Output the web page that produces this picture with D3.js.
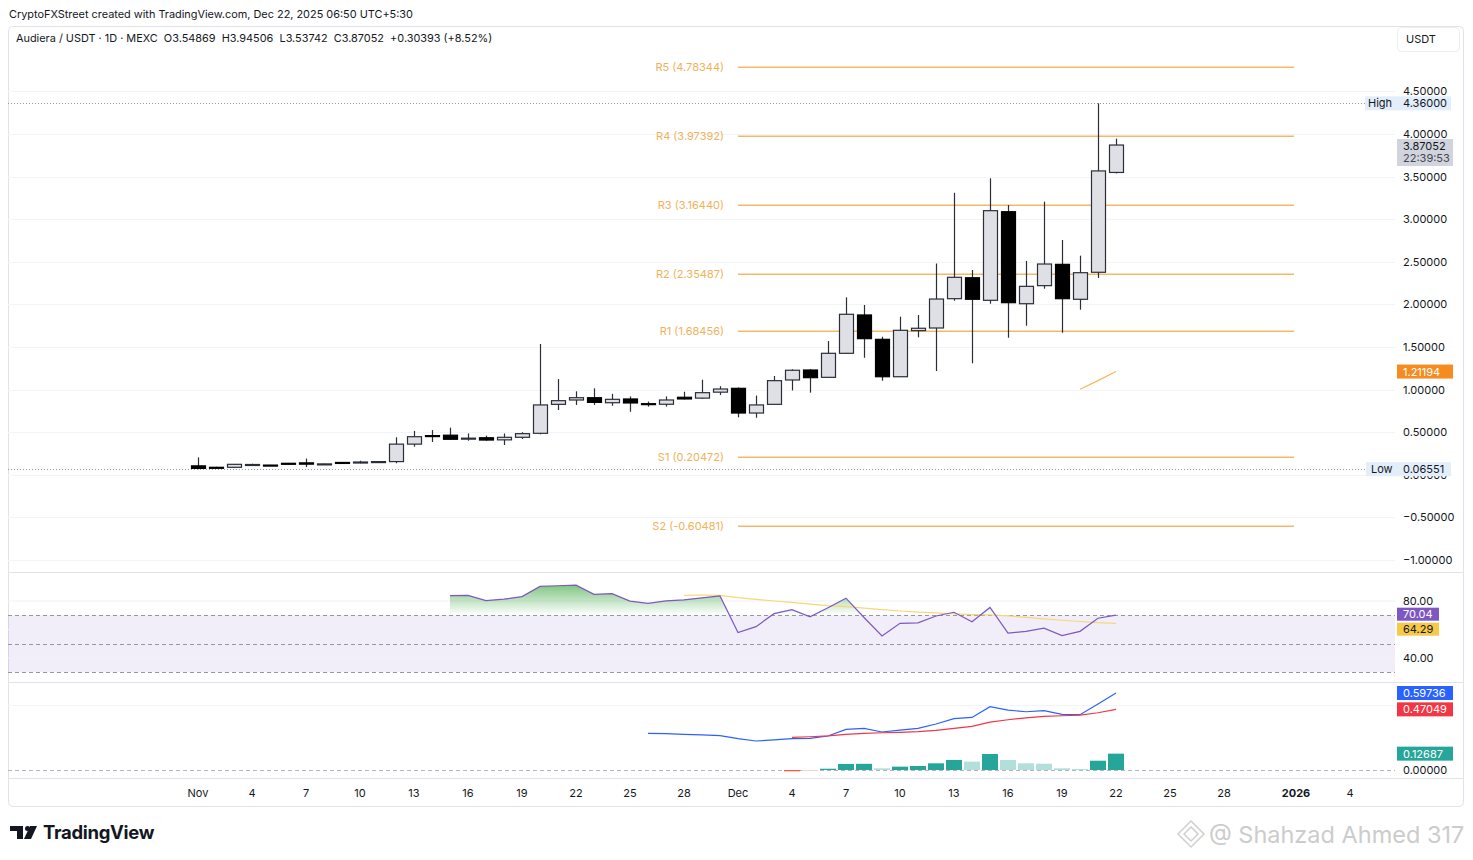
<!DOCTYPE html>
<html lang="en">
<head>
<meta charset="UTF-8">
<title>Audiera / USDT</title>
<script src="https://cdn.jsdelivr.net/npm/d3@7"></script>
<style>
  body { margin: 0; background: #fff; }
  svg { font-family: Inter, "Noto Sans", sans-serif; }
</style>
</head>
<body>
<svg id="chart" width="1473" height="860"></svg>
<script>
// ---- data ----
var dates = ["2025-11-01","2025-11-02","2025-11-03","2025-11-04","2025-11-05","2025-11-06","2025-11-07","2025-11-08",
  "2025-11-09","2025-11-10","2025-11-11","2025-11-12","2025-11-13","2025-11-14","2025-11-15","2025-11-16","2025-11-17",
  "2025-11-18","2025-11-19","2025-11-20","2025-11-21","2025-11-22","2025-11-23","2025-11-24","2025-11-25","2025-11-26",
  "2025-11-27","2025-11-28","2025-11-29","2025-11-30","2025-12-01","2025-12-02","2025-12-03","2025-12-04","2025-12-05",
  "2025-12-06","2025-12-07","2025-12-08","2025-12-09","2025-12-10","2025-12-11","2025-12-12","2025-12-13","2025-12-14",
  "2025-12-15","2025-12-16","2025-12-17","2025-12-18","2025-12-19","2025-12-20","2025-12-21","2025-12-22"];

var open  = [0.105,0.088,0.088,0.118,0.114,0.135,0.140,0.125,0.145,0.148,0.152,0.155,0.360,0.460,0.465,0.425,0.435,
  0.410,0.440,0.487,0.827,0.878,0.905,0.846,0.890,0.835,0.828,0.910,0.900,0.970,1.015,0.725,0.827,1.113,1.230,
  1.144,1.426,1.876,1.590,1.151,1.692,1.723,2.067,2.313,2.048,3.088,2.008,2.220,2.470,2.060,2.377,3.54869];
var high  = [0.205,0.095,0.125,0.130,0.118,0.140,0.190,0.130,0.150,0.165,0.160,0.440,0.515,0.525,0.553,0.485,0.460,
  0.485,0.500,1.535,1.124,0.980,1.015,0.950,0.920,0.860,0.920,0.975,1.116,1.040,1.025,0.930,1.160,1.238,1.240,
  1.570,2.083,1.993,1.620,1.856,1.876,2.480,3.310,2.404,3.480,3.167,2.510,3.206,2.756,2.572,4.360,3.94506];
var low   = [0.0655,0.075,0.085,0.105,0.108,0.120,0.090,0.120,0.130,0.135,0.140,0.135,0.330,0.385,0.410,0.400,0.400,
  0.350,0.420,0.475,0.760,0.820,0.820,0.810,0.740,0.800,0.800,0.885,0.890,0.937,0.675,0.670,0.827,0.990,0.964,
  1.140,1.420,1.374,1.104,1.150,1.614,1.218,2.043,1.309,2.008,1.609,1.750,2.184,1.668,1.938,2.310,3.53742];
var close = [0.075,0.080,0.123,0.121,0.110,0.125,0.125,0.128,0.135,0.150,0.155,0.360,0.447,0.450,0.417,0.430,0.408,
  0.440,0.483,0.820,0.870,0.905,0.850,0.886,0.843,0.830,0.878,0.890,0.964,1.007,0.725,0.820,1.105,1.227,1.140,
  1.426,1.884,1.598,1.151,1.696,1.720,2.063,2.318,2.060,3.100,2.020,2.212,2.474,2.067,2.372,3.56659,3.87052];

// short orange average that starts on Dec 20
var maDates  = ["2025-12-20","2025-12-21","2025-12-22"];
var maValues = [1.005,1.105,1.21194];

var pivotNames  = ["R5","R4","R3","R2","R1","S1","S2"];
var pivotValues = [4.78344,3.97392,3.16440,2.35487,1.68456,0.20472,-0.60481];
var pivotStart = "2025-12-01", pivotEnd = "2026-01-01";

var priceTicks = [4.5,4.0,3.5,3.0,2.5,2.0,1.5,1.0,0.5,0.0,-0.5,-1.0];

// RSI 14 (from Nov 15) and its moving average (from Nov 28)
var rsi = [null,null,null,null,null,null,null,null,null,null,null,null,null,null,
  83.8,84.0,80.3,81.3,83.1,90.2,90.7,91.1,84.7,85.2,79.9,78.3,80.1,80.8,82.2,83.6,57.8,62.0,71.1,73.9,68.9,
  75.3,82.0,68.4,55.5,64.3,64.7,69.5,72.1,65.4,75.5,57.5,58.7,61.0,55.7,58.7,67.9,70.04];
var rsiMa = [null,null,null,null,null,null,null,null,null,null,null,null,null,null,null,null,null,null,null,null,
  null,null,null,null,null,null,null,84.0,84.2,83.9,82.4,81.2,80.0,79.0,77.8,76.7,76.0,75.0,74.0,73.0,72.2,71.6,
  71.0,70.5,70.2,69.5,68.5,67.5,66.5,65.6,64.8,64.29];

// MACD (from Nov 26), signal and histogram (from Dec 4)
var macd = [null,null,null,null,null,null,null,null,null,null,null,null,null,null,null,null,null,null,null,null,
  null,null,null,null,null,0.284,0.282,0.277,0.272,0.267,0.243,0.225,0.233,0.243,0.245,0.264,0.315,0.323,0.295,
  0.310,0.323,0.357,0.398,0.408,0.491,0.465,0.452,0.460,0.432,0.429,0.512,0.59736];
var signal = [null,null,null,null,null,null,null,null,null,null,null,null,null,null,null,null,null,null,null,null,
  null,null,null,null,null,null,null,null,null,null,null,null,null,0.253,0.258,0.264,0.276,0.284,0.289,0.292,
  0.297,0.307,0.323,0.339,0.372,0.390,0.405,0.416,0.421,0.426,0.444,0.47049];
var hist = [null,null,null,null,null,null,null,null,null,null,null,null,null,null,null,null,null,null,null,null,
  null,null,null,null,null,null,null,null,null,null,null,null,null,-0.010,-0.003,0.010,0.047,0.048,0.013,0.026,
  0.031,0.052,0.078,0.065,0.124,0.078,0.052,0.049,0.013,0.008,0.072,0.12687];

var xTicks = [["2025-11-01","Nov"],["2025-11-04","4"],["2025-11-07","7"],["2025-11-10","10"],["2025-11-13","13"],
  ["2025-11-16","16"],["2025-11-19","19"],["2025-11-22","22"],["2025-11-25","25"],["2025-11-28","28"],
  ["2025-12-01","Dec"],["2025-12-04","4"],["2025-12-07","7"],["2025-12-10","10"],["2025-12-13","13"],
  ["2025-12-16","16"],["2025-12-19","19"],["2025-12-22","22"],["2025-12-25","25"],["2025-12-28","28"],
  ["2026-01-01","2026"],["2026-01-04","4"]];

// ---- layout ----
var svg = d3.select('#chart');
var plotLeft = 8, plotRight = 1395, axisX = 1403;
var parse = d3.utcParse('%Y-%m-%d');

var x = d3.scaleUtc()
    .domain([parse('2025-11-01'), parse('2026-01-01')])
    .range([198, 1296]);
var y = d3.scaleLinear().domain([0, 4.5]).range([474.8, 91.4]);
var yR = d3.scaleLinear().domain([40, 80]).range([658, 601]);
var yM = d3.scaleLinear().domain([0, 0.59736]).range([770, 693]);

var candles = dates.map(function (d, i) {
    return {date: parse(d), o: open[i], h: high[i], l: low[i], c: close[i]};
});

var txt = '#131722';

// header
svg.append('text').attr('x', 9).attr('y', 18).attr('font-size', '10.9px').attr('fill', txt)
    .text('CryptoFXStreet created with TradingView.com, Dec 22, 2025 06:50 UTC+5:30');

// frame
svg.append('rect').attr('x', 8.5).attr('y', 26.5).attr('width', 1455).attr('height', 780)
    .attr('rx', 4).attr('fill', 'none').attr('stroke', '#e0e3eb');
svg.append('text').attr('x', 16).attr('y', 42).attr('font-size', '10.9px').attr('fill', txt)
    .attr('xml:space', 'preserve')
    .text('Audiera / USDT \u00b7 1D \u00b7 MEXC  O3.54869  H3.94506  L3.53742  C3.87052  +0.30393 (+8.52%)');

// USDT box
svg.append('rect').attr('x', 1397.5).attr('y', 27.5).attr('width', 62).attr('height', 24).attr('rx', 4)
    .attr('fill', '#fff').attr('stroke', '#eceef2');
svg.append('text').attr('x', 1421).attr('y', 43).attr('text-anchor', 'middle')
    .attr('font-size', '11px').attr('fill', txt).text('USDT');

// price grid
svg.append('g').selectAll('line').data(priceTicks).enter().append('line')
    .attr('x1', plotLeft).attr('x2', plotRight)
    .attr('y1', function (d) { return Math.round(y(d)) + 0.5; })
    .attr('y2', function (d) { return Math.round(y(d)) + 0.5; })
    .attr('stroke', '#f3f4f7');

// panel separators
[572.5, 682.5, 778.5].forEach(function (py) {
    svg.append('line').attr('x1', 8).attr('x2', 1463).attr('y1', py).attr('y2', py).attr('stroke', '#e0e3eb');
});

// pivot levels
var piv = svg.append('g');
piv.selectAll('line').data(pivotValues).enter().append('line')
    .attr('x1', x(parse(pivotStart))).attr('x2', x(parse(pivotEnd)) - 2)
    .attr('y1', function (d) { return y(d); }).attr('y2', function (d) { return y(d); })
    .attr('stroke', '#f2b968').attr('stroke-width', 1.5);
piv.selectAll('text').data(pivotValues).enter().append('text')
    .attr('x', x(parse(pivotStart)) - 14)
    .attr('y', function (d) { return y(d) + 4; })
    .attr('text-anchor', 'end').attr('font-size', '11px').attr('fill', '#efb25a')
    .text(function (d, i) { return pivotNames[i] + ' (' + d.toFixed(5) + ')'; });

// high / low dotted lines
[[4.36, 1365], [0.06551, 1366]].forEach(function (p) {
    svg.append('line').attr('x1', plotLeft).attr('x2', p[1])
        .attr('y1', Math.round(y(p[0])) + 0.5).attr('y2', Math.round(y(p[0])) + 0.5)
        .attr('stroke', '#9598a1').attr('stroke-dasharray', '1,2');
});

// candles
var bw = 14;
var cg = svg.append('g');
cg.selectAll('line').data(candles).enter().append('line')
    .attr('x1', function (d) { return Math.round(x(d.date)) + 0.5; })
    .attr('x2', function (d) { return Math.round(x(d.date)) + 0.5; })
    .attr('y1', function (d) { return y(d.h); })
    .attr('y2', function (d) { return y(d.l); })
    .attr('stroke', '#2a2e39').attr('stroke-width', 1.2);
cg.selectAll('rect').data(candles).enter().append('rect')
    .attr('x', function (d) { return Math.round(x(d.date)) - bw / 2 + 0.5; })
    .attr('y', function (d) { return y(Math.max(d.o, d.c)); })
    .attr('width', bw)
    .attr('height', function (d) { return Math.max(1, Math.abs(y(d.o) - y(d.c))); })
    .attr('fill', function (d) { return d.c >= d.o ? '#dfe0e6' : '#000'; })
    .attr('stroke', function (d) { return d.c >= d.o ? '#2a2e39' : '#000'; })
    .attr('stroke-width', 1.2);

// short orange average
var maLine = d3.line()
    .x(function (d, i) { return x(parse(maDates[i])); })
    .y(function (d) { return y(d); });
svg.append('path').datum(maValues).attr('d', maLine)
    .attr('fill', 'none').attr('stroke', '#f7b55c').attr('stroke-width', 1.2);

// price axis labels (0.00000 sits mostly under the Low tag, as in the original)
svg.append('g').selectAll('text').data(priceTicks).enter().append('text')
    .attr('x', axisX).attr('y', function (d) { return y(d) + 4; })
    .attr('font-size', '11px').attr('fill', txt)
    .text(function (d) { return d < 0 ? '\u2212' + (-d).toFixed(5) : d.toFixed(5); });

function tag(xp, yc, w, h, bg, label, color) {
    svg.append('rect').attr('x', xp).attr('y', yc - h / 2).attr('width', w).attr('height', h).attr('fill', bg);
    svg.append('text').attr('x', axisX).attr('y', yc + 4).attr('font-size', '11px').attr('fill', color).text(label);
}

// High / Low tags
svg.append('rect').attr('x', 1365).attr('y', y(4.36) - 7).attr('width', 86).attr('height', 14).attr('fill', '#e3eefb');
svg.append('text').attr('x', 1368).attr('y', y(4.36) + 4).attr('font-size', '11px').attr('fill', txt).text('High');
svg.append('text').attr('x', axisX).attr('y', y(4.36) + 4).attr('font-size', '11px').attr('fill', txt).text('4.36000');
svg.append('rect').attr('x', 1366).attr('y', y(0.06551) - 7).attr('width', 85).attr('height', 14).attr('fill', '#e3eefb');
svg.append('text').attr('x', 1371).attr('y', y(0.06551) + 4).attr('font-size', '11px').attr('fill', txt).text('Low');
svg.append('text').attr('x', axisX).attr('y', y(0.06551) + 4).attr('font-size', '11px').attr('fill', txt).text('0.06551');

// last price tag with countdown
var lastY = y(close[close.length - 1]);
svg.append('rect').attr('x', 1397).attr('y', lastY - 6).attr('width', 56).attr('height', 27).attr('fill', '#d1d4dc');
svg.append('text').attr('x', axisX).attr('y', lastY + 5).attr('font-size', '11px').attr('fill', txt).text('3.87052');
svg.append('text').attr('x', axisX).attr('y', lastY + 17).attr('font-size', '11px').attr('fill', '#434651').text('22:39:53');

tag(1397, y(maValues[maValues.length - 1]), 56, 14, '#f68b1f', '1.21194', '#fff');

// ---- RSI panel ----
var defs = svg.append('defs');
var grad = defs.append('linearGradient').attr('id', 'obGrad')
    .attr('gradientUnits', 'userSpaceOnUse').attr('x1', 0).attr('x2', 0)
    .attr('y1', yR(100)).attr('y2', yR(70));
grad.append('stop').attr('offset', '0%').attr('stop-color', '#4caf50').attr('stop-opacity', 1);
grad.append('stop').attr('offset', '100%').attr('stop-color', '#4caf50').attr('stop-opacity', 0);
defs.append('clipPath').attr('id', 'obClip').append('rect')
    .attr('x', plotLeft).attr('y', 573).attr('width', plotRight - plotLeft).attr('height', yR(70) - 573);

svg.append('rect').attr('x', plotLeft).attr('y', yR(70)).attr('width', plotRight - plotLeft)
    .attr('height', yR(30) - yR(70)).attr('fill', 'rgba(126,87,194,0.1)');
[80, 60, 40].forEach(function (v) {
    svg.append('line').attr('x1', plotLeft).attr('x2', plotRight).attr('y1', yR(v)).attr('y2', yR(v))
        .attr('stroke', '#f0f1f5');
});
[70, 50, 30].forEach(function (v) {
    svg.append('line').attr('x1', plotLeft).attr('x2', plotRight)
        .attr('y1', Math.round(yR(v)) + 0.5).attr('y2', Math.round(yR(v)) + 0.5)
        .attr('stroke', '#9598a1').attr('stroke-dasharray', '4,3');
});

var rsiPts = [];
rsi.forEach(function (v, i) { if (v != null) rsiPts.push({date: parse(dates[i]), v: v}); });
var rsiMaPts = [];
rsiMa.forEach(function (v, i) { if (v != null) rsiMaPts.push({date: parse(dates[i]), v: v}); });

svg.append('path').datum(rsiPts)
    .attr('d', d3.area()
        .x(function (d) { return x(d.date); })
        .y0(yR(70))
        .y1(function (d) { return yR(d.v); }))
    .attr('fill', 'url(#obGrad)').attr('clip-path', 'url(#obClip)');

var rLine = d3.line().x(function (d) { return x(d.date); }).y(function (d) { return yR(d.v); });
svg.append('path').datum(rsiMaPts).attr('d', rLine)
    .attr('fill', 'none').attr('stroke', '#f7d774').attr('stroke-width', 1.2);
svg.append('path').datum(rsiPts).attr('d', rLine)
    .attr('fill', 'none').attr('stroke', '#7e57c2').attr('stroke-width', 1.2);

svg.append('text').attr('x', axisX).attr('y', yR(80) + 4).attr('font-size', '11px').attr('fill', txt).text('80.00');
svg.append('text').attr('x', axisX).attr('y', yR(40) + 4).attr('font-size', '11px').attr('fill', txt).text('40.00');
tag(1397, yR(70.04) - 1, 42, 13, '#7e57c2', '70.04', '#fff');
tag(1397, yR(70.04) + 14, 42, 13, '#f7c948', '64.29', txt);

// ---- MACD panel ----
svg.append('line').attr('x1', plotLeft).attr('x2', plotRight).attr('y1', yM(0.5)).attr('y2', yM(0.5))
    .attr('stroke', '#f3f4f7');
svg.append('line').attr('x1', plotLeft).attr('x2', plotRight).attr('y1', yM(0) + 0.5).attr('y2', yM(0) + 0.5)
    .attr('stroke', '#b2b5be').attr('stroke-dasharray', '4,3');

var histPts = [];
hist.forEach(function (v, i) { if (v != null) histPts.push({date: parse(dates[i]), v: v, i: i}); });
svg.append('g').selectAll('rect').data(histPts).enter().append('rect')
    .attr('x', function (d) { return x(d.date) - 8; })
    .attr('width', 16)
    .attr('y', function (d) { return Math.min(yM(d.v), yM(0)); })
    .attr('height', function (d) { return Math.max(1, Math.abs(yM(d.v) - yM(0))); })
    .attr('fill', function (d, k) {
        var prev = k > 0 ? histPts[k - 1].v : d.v;
        if (d.v >= 0) return d.v >= prev ? '#26a69a' : '#b2dfdb';
        return d.v <= prev ? '#ff5252' : '#ffcdd2';
    });

var macdPts = [], sigPts = [];
macd.forEach(function (v, i) { if (v != null) macdPts.push({date: parse(dates[i]), v: v}); });
signal.forEach(function (v, i) { if (v != null) sigPts.push({date: parse(dates[i]), v: v}); });
var mLine = d3.line().x(function (d) { return x(d.date); }).y(function (d) { return yM(d.v); });
svg.append('path').datum(macdPts).attr('d', mLine)
    .attr('fill', 'none').attr('stroke', '#2962ff').attr('stroke-width', 1.2);
svg.append('path').datum(sigPts).attr('d', mLine)
    .attr('fill', 'none').attr('stroke', '#f23645').attr('stroke-width', 1.2);

tag(1397, yM(0.59736), 56, 14, '#2962ff', '0.59736', '#fff');
tag(1397, yM(0.47049), 56, 14, '#f23645', '0.47049', '#fff');
tag(1397, yM(0.12687), 56, 14, '#26a69a', '0.12687', '#fff');
svg.append('text').attr('x', axisX).attr('y', yM(0) + 4).attr('font-size', '11px').attr('fill', txt).text('0.00000');

// ---- time axis ----
svg.append('g').selectAll('text').data(xTicks).enter().append('text')
    .attr('x', function (d) { return x(parse(d[0])); })
    .attr('y', 797).attr('text-anchor', 'middle').attr('font-size', '11px').attr('fill', txt)
    .attr('font-weight', function (d) { return d[1] === '2026' ? 700 : 400; })
    .text(function (d) { return d[1]; });

// ---- footer ----
var logo = svg.append('g').attr('fill', txt);
logo.append('path').attr('d', 'M10,826 h13 v13 h-6 v-8 h-7 z');
logo.append('circle').attr('cx', 27.5).attr('cy', 828.5).attr('r', 2.5);
logo.append('path').attr('d', 'M30,826 h7 l-6,13 h-7 z');
svg.append('text').attr('x', 43).attr('y', 839).attr('font-size', '18.5px').attr('font-weight', 700)
    .attr('fill', txt).attr('letter-spacing', '-0.3').text('TradingView');

var wm = svg.append('g').attr('fill', 'none').attr('stroke', '#cfcfcf').attr('stroke-width', 1.5);
wm.append('path').attr('d', 'M1191,821 l13,13 l-13,13 l-13,-13 z');
wm.append('path').attr('d', 'M1191,827 l7,7 l-7,7 l-7,-7 z');
svg.append('text').attr('x', 1209).attr('y', 843).attr('font-size', '23.5px')
    .attr('fill', '#cccccc').text('@ Shahzad Ahmed 317');
</script>
</body>
</html>
